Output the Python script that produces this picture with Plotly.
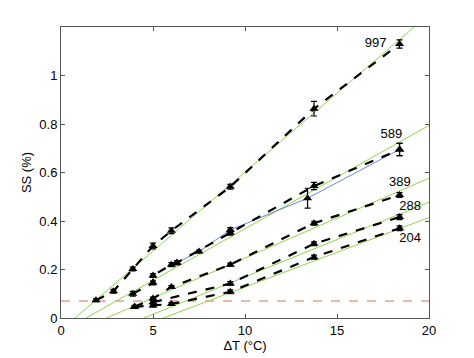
import plotly.graph_objects as go

# ---- data ----
x997 = [1.9, 2.85, 3.9, 5.0, 6.0, 9.2, 13.75, 18.4]
y997 = [0.073, 0.110, 0.202, 0.297, 0.360, 0.541, 0.863, 1.130]
e997 = [0.006, 0.008, 0.008, 0.012, 0.012, 0.010, 0.030, 0.017]

x589 = [3.9, 5.0, 5.0, 6.0, 6.3, 9.2, 13.75, 18.4]
y589 = [0.100, 0.145, 0.175, 0.220, 0.228, 0.352, 0.544, 0.695]
e589 = [0.010, 0.008, 0.008, 0.008, 0.008, 0.010, 0.015, 0.025]

x589b = [6.3, 7.5, 9.2, 13.4, 18.4]
y589b = [0.228, 0.274, 0.363, 0.494, 0.695]
e589b = [0.008, 0.006, 0.010, 0.041, 0.025]

x389 = [4.0, 5.0, 6.0, 9.2, 13.75, 18.4]
y389 = [0.046, 0.080, 0.128, 0.220, 0.391, 0.507]
e389 = [0.006, 0.006, 0.006, 0.006, 0.008, 0.010]

x288 = [5.0, 9.2, 13.75, 18.4]
y288 = [0.065, 0.142, 0.306, 0.416]
e288 = [0.006, 0.008, 0.008, 0.010]

x204 = [4.0, 5.0, 6.0, 9.2, 13.75, 18.4]
y204 = [0.046, 0.052, 0.058, 0.108, 0.251, 0.370]
e204 = [0.005, 0.006, 0.005, 0.008, 0.008, 0.010]

# linear fits: (x-intercept, slope)
fit_names = ["997", "589", "389", "288", "204"]
fit_x0 = [0.76, 1.36, 2.48, 4.50, 5.56]
fit_slope = [0.0651, 0.0426, 0.0329, 0.0308, 0.0287]

threshold = 0.07

label_text = ["997", "589", "389", "288", "204"]
label_x = [17.1, 17.96, 18.42, 18.97, 18.97]
label_y = [1.131, 0.754, 0.557, 0.458, 0.326]

X_MAX = 20.0
Y_MAX = 1.2

FONT = "Liberation Sans, Arial"

fig = go.Figure()

# threshold line
fig.add_trace(go.Scatter(x=[0, X_MAX], y=[threshold, threshold], mode="lines",
                         line=dict(color="#e06666", width=1, dash="dash"),
                         hoverinfo="skip", showlegend=False))

# green fit lines
for x0, m in zip(fit_x0, fit_slope):
    x_end = min(X_MAX, x0 + Y_MAX / m)
    fig.add_trace(go.Scatter(x=[x0, x_end], y=[0, m * (x_end - x0)], mode="lines",
                             line=dict(color="#8fd44a", width=1),
                             hoverinfo="skip", showlegend=False))

# blue thin series
fig.add_trace(go.Scatter(x=x589b, y=y589b, mode="lines+markers",
                         line=dict(color="#4a66d0", width=0.8),
                         marker=dict(symbol="triangle-up", size=8, color="black"),
                         error_y=dict(type="data", array=e589b, color="black",
                                      thickness=1.2, width=3),
                         showlegend=False))

# black dashed series
for xs, ys, es in [(x997, y997, e997), (x589, y589, e589), (x389, y389, e389),
                   (x288, y288, e288), (x204, y204, e204)]:
    fig.add_trace(go.Scatter(x=xs, y=ys, mode="lines+markers",
                             line=dict(color="black", width=2.2, dash="dash"),
                             marker=dict(symbol="triangle-up", size=8, color="black"),
                             error_y=dict(type="data", array=es, color="black",
                                          thickness=1.2, width=3),
                             showlegend=False))

# labels
fig.add_trace(go.Scatter(x=label_x, y=label_y, mode="text", text=label_text,
                         textfont=dict(family=FONT, size=13, color="black"),
                         hoverinfo="skip", showlegend=False))

axis_common = dict(showgrid=False, zeroline=False, showline=True, mirror="allticks",
                   linecolor="#555555", linewidth=1, ticks="inside", ticklen=4,
                   tickcolor="#555555", automargin=False,
                   tickfont=dict(family=FONT, size=13, color="black"))

fig.update_layout(
    width=474, height=358,
    margin=dict(l=61, r=45, t=27, b=40),
    paper_bgcolor="white", plot_bgcolor="white",
    xaxis=dict(range=[0, X_MAX], tickvals=[0, 5, 10, 15, 20],
               title=dict(text="ΔT (°C)", standoff=0,
                          font=dict(family=FONT, size=13, color="black")),
               **axis_common),
    yaxis=dict(range=[0, Y_MAX], tickvals=[0, 0.2, 0.4, 0.6, 0.8, 1.0],
               ticktext=["0", "0.2", "0.4", "0.6", "0.8", "1"],
               title=dict(text="SS (%)", standoff=4,
                          font=dict(family=FONT, size=13, color="black")),
               **axis_common),
)

fig.write_html("out.html",
               config={"displayModeBar": False, "staticPlot": True},
               post_script="document.body.style.margin='0';document.body.style.overflow='hidden';")
